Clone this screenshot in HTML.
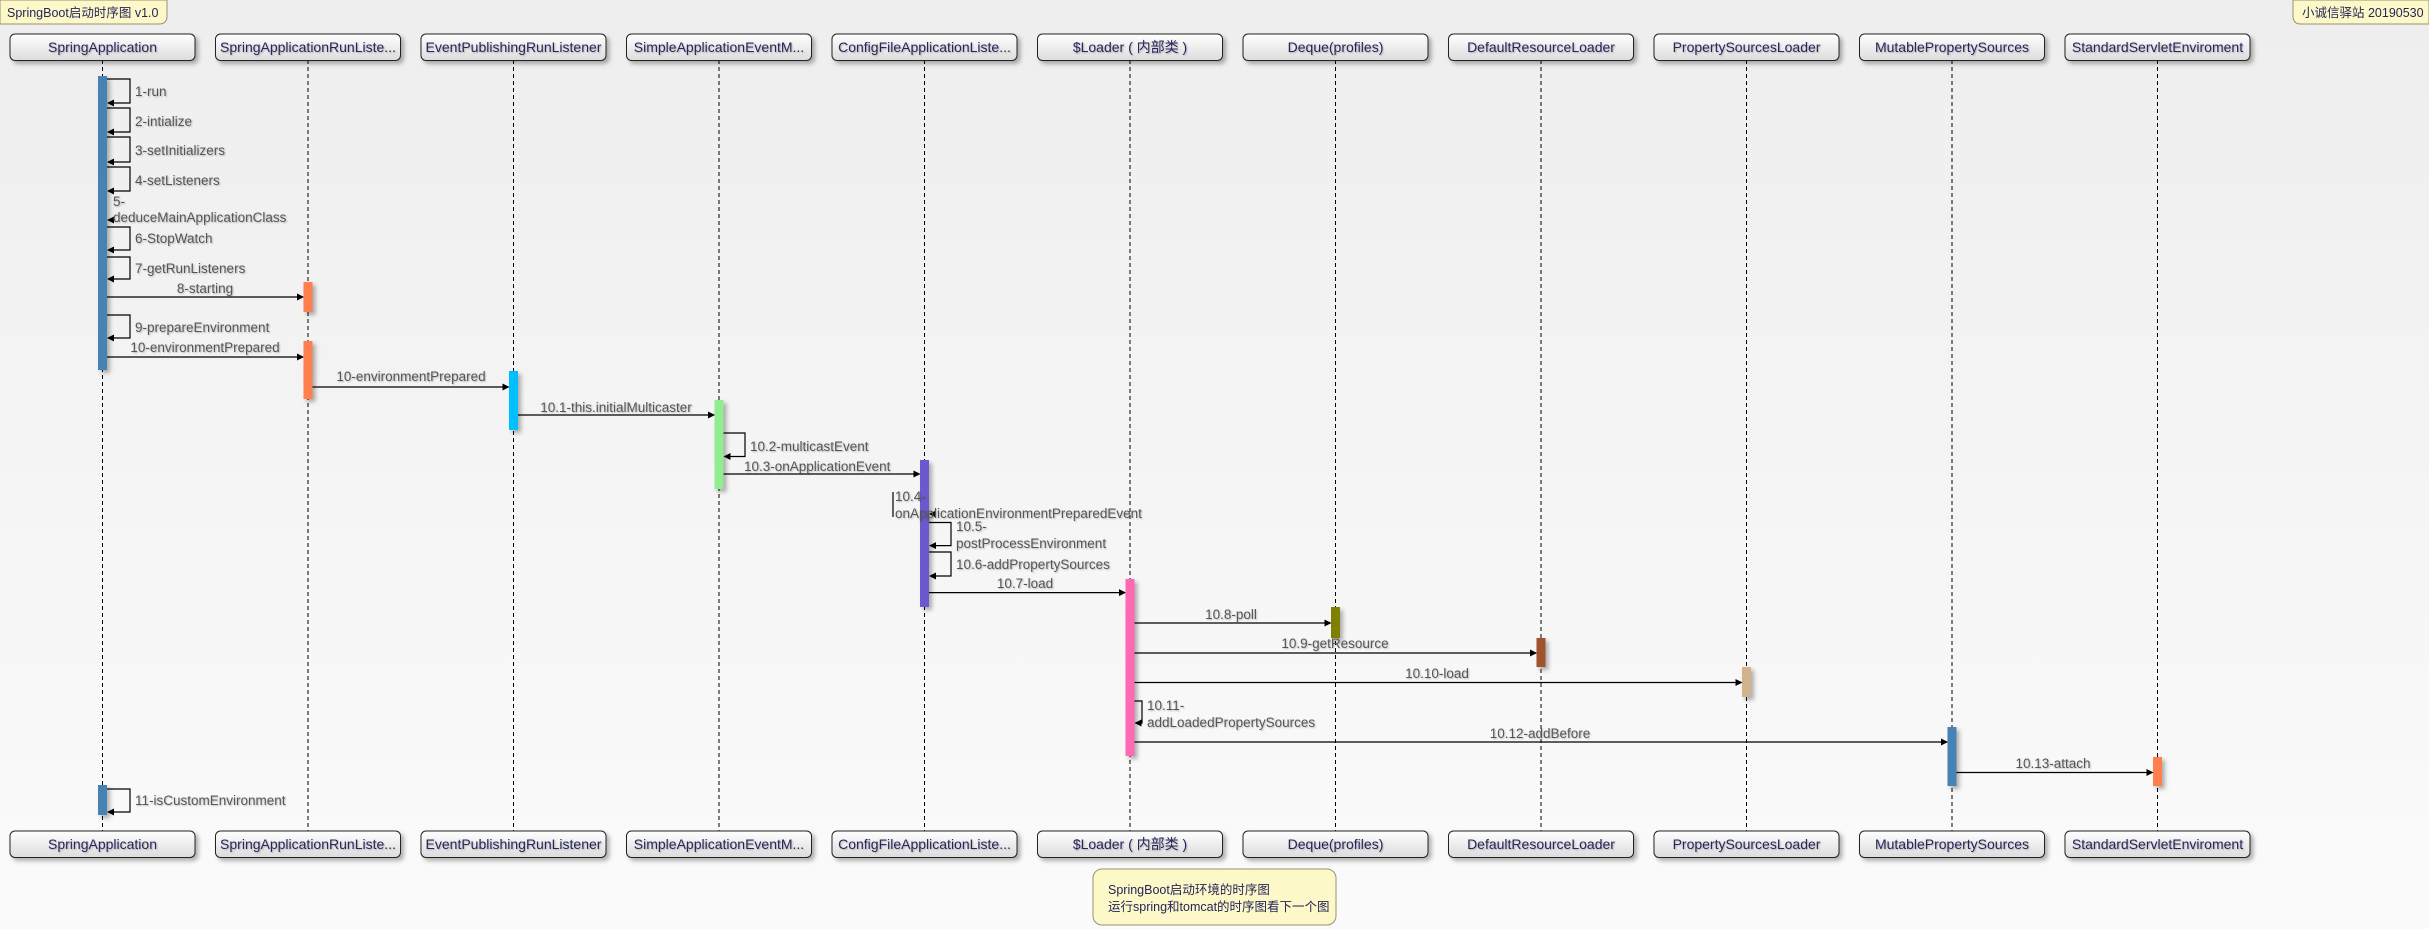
<!DOCTYPE html>
<html><head><meta charset="utf-8"><style>
html,body{margin:0;padding:0;}
body{width:2429px;height:929px;overflow:hidden;}
svg{display:block;}
.lb{font-family:"Liberation Sans","Noto Sans CJK SC",sans-serif;font-size:13.5px;fill:#555;}
.bx{font-family:"Liberation Sans","Noto Sans CJK SC",sans-serif;font-size:14px;fill:#25255a;}
.nt{font-family:"Liberation Sans","Noto Sans CJK SC",sans-serif;font-size:12.5px;fill:#25255a;}
</style></head><body>
<svg width="2429" height="929" viewBox="0 0 2429 929" xmlns="http://www.w3.org/2000/svg">
<defs>
<linearGradient id="bg" x1="0" y1="0" x2="0" y2="1"><stop offset="0" stop-color="#eeeeee"/><stop offset="1" stop-color="#fbfbfb"/></linearGradient>
<linearGradient id="bxg" x1="0" y1="0" x2="0" y2="1"><stop offset="0" stop-color="#ffffff"/><stop offset="1" stop-color="#dcdcdc"/></linearGradient>
<filter id="sh" x="-10%" y="-30%" width="130%" height="180%"><feDropShadow dx="3" dy="3" stdDeviation="2" flood-color="#000" flood-opacity="0.3"/></filter>
<filter id="ts"><feDropShadow dx="1" dy="1" stdDeviation="0.8" flood-color="#000" flood-opacity="0.25"/></filter>
<marker id="ah" markerWidth="7" markerHeight="7" refX="6" refY="3.5" orient="auto" markerUnits="userSpaceOnUse"><path d="M0,0 L7,3.5 L0,7 z" fill="#000"/></marker>
</defs>
<rect width="2429" height="929" fill="url(#bg)"/>

<path d="M0,0 H167 V16 Q167,24 159,24 H0 Z" fill="#fdf8c8" stroke="#9a9070"/>
<text class="nt" x="7" y="17">SpringBoot启动时序图 v1.0</text>
<path d="M2429,0 H2293 V16 Q2293,24 2301,24 H2429 Z" fill="#fdf8c8" stroke="#9a9070"/>
<text class="nt" x="2302" y="17">小诚信驿站 20190530</text>
<rect x="1093" y="869" width="243" height="56" rx="9" fill="#fdf8c8" stroke="#9a9070"/>
<text class="nt" x="1108" y="894">SpringBoot启动环境的时序图</text>
<text class="nt" x="1108" y="911">运行spring和tomcat的时序图看下一个图</text>

<g stroke="#000" stroke-width="1" stroke-dasharray="4,3">
<line x1="102.5" y1="60" x2="102.5" y2="831"/>
<line x1="308" y1="60" x2="308" y2="831"/>
<line x1="513.5" y1="60" x2="513.5" y2="831"/>
<line x1="719" y1="60" x2="719" y2="831"/>
<line x1="924.5" y1="60" x2="924.5" y2="831"/>
<line x1="1130" y1="60" x2="1130" y2="831"/>
<line x1="1335.5" y1="60" x2="1335.5" y2="831"/>
<line x1="1541" y1="60" x2="1541" y2="831"/>
<line x1="1746.5" y1="60" x2="1746.5" y2="831"/>
<line x1="1952" y1="60" x2="1952" y2="831"/>
<line x1="2157.5" y1="60" x2="2157.5" y2="831"/>
</g>

<g>
<g filter="url(#sh)" fill="url(#bxg)" stroke="#222" stroke-width="1">
<rect x="10" y="34" width="185" height="26.5" rx="5"/><rect x="215.5" y="34" width="185" height="26.5" rx="5"/><rect x="421" y="34" width="185" height="26.5" rx="5"/><rect x="626.5" y="34" width="185" height="26.5" rx="5"/><rect x="832" y="34" width="185" height="26.5" rx="5"/><rect x="1037.5" y="34" width="185" height="26.5" rx="5"/><rect x="1243" y="34" width="185" height="26.5" rx="5"/><rect x="1448.5" y="34" width="185" height="26.5" rx="5"/><rect x="1654" y="34" width="185" height="26.5" rx="5"/><rect x="1859.5" y="34" width="185" height="26.5" rx="5"/><rect x="2065" y="34" width="185" height="26.5" rx="5"/>
<rect x="10" y="831" width="185" height="26.5" rx="5"/><rect x="215.5" y="831" width="185" height="26.5" rx="5"/><rect x="421" y="831" width="185" height="26.5" rx="5"/><rect x="626.5" y="831" width="185" height="26.5" rx="5"/><rect x="832" y="831" width="185" height="26.5" rx="5"/><rect x="1037.5" y="831" width="185" height="26.5" rx="5"/><rect x="1243" y="831" width="185" height="26.5" rx="5"/><rect x="1448.5" y="831" width="185" height="26.5" rx="5"/><rect x="1654" y="831" width="185" height="26.5" rx="5"/><rect x="1859.5" y="831" width="185" height="26.5" rx="5"/><rect x="2065" y="831" width="185" height="26.5" rx="5"/>
</g>
<g class="bx" text-anchor="middle" filter="url(#ts)">
<text x="102.5" y="52">SpringApplication</text><text x="308" y="52">SpringApplicationRunListe...</text><text x="513.5" y="52">EventPublishingRunListener</text><text x="719" y="52">SimpleApplicationEventM...</text><text x="924.5" y="52">ConfigFileApplicationListe...</text><text x="1130" y="52">$Loader ( 内部类 )</text><text x="1335.5" y="52">Deque(profiles)</text><text x="1541" y="52">DefaultResourceLoader</text><text x="1746.5" y="52">PropertySourcesLoader</text><text x="1952" y="52">MutablePropertySources</text><text x="2157.5" y="52">StandardServletEnviroment</text>
<text x="102.5" y="849">SpringApplication</text><text x="308" y="849">SpringApplicationRunListe...</text><text x="513.5" y="849">EventPublishingRunListener</text><text x="719" y="849">SimpleApplicationEventM...</text><text x="924.5" y="849">ConfigFileApplicationListe...</text><text x="1130" y="849">$Loader ( 内部类 )</text><text x="1335.5" y="849">Deque(profiles)</text><text x="1541" y="849">DefaultResourceLoader</text><text x="1746.5" y="849">PropertySourcesLoader</text><text x="1952" y="849">MutablePropertySources</text><text x="2157.5" y="849">StandardServletEnviroment</text>
</g>
</g>

<g filter="url(#sh)">
<rect x="98" y="76" width="9" height="294" fill="#4682b4"/>
<rect x="98" y="785" width="9" height="30" fill="#4682b4"/>
<rect x="303.5" y="282" width="9" height="30" fill="#ff7f50"/>
<rect x="303.5" y="341" width="9" height="58" fill="#ff7f50"/>
<rect x="509" y="371" width="9" height="59" fill="#00bfff"/>
<rect x="714.5" y="400" width="9" height="89" fill="#90ee90"/>
<rect x="920" y="460" width="9" height="147" fill="#6a5acd"/>
<rect x="1125.5" y="579" width="9" height="177" fill="#ff69b4"/>
<rect x="1331" y="607" width="9" height="31" fill="#808000"/>
<rect x="1536.5" y="638" width="9" height="29" fill="#a0522d"/>
<rect x="1742" y="667" width="9" height="30" fill="#d2b48c"/>
<rect x="1947.5" y="727" width="9" height="59" fill="#4682b4"/>
<rect x="2153" y="757" width="9" height="29" fill="#ff7f50"/>
</g>

<g fill="none" stroke="#000" stroke-width="1.2" marker-end="url(#ah)">
<path d="M107,79 H130 V103 H108"/>
<path d="M107,108 H130 V132 H108"/>
<path d="M107,137 H130 V162 H108"/>
<path d="M107,167 H130 V191 H108"/>
<path d="M112,220 H108"/>
<path d="M107,227 H130 V250 H108"/>
<path d="M107,257 H130 V279 H108"/>
<path d="M107,315 H130 V338 H108"/>
<path d="M107,789 H130 V812 H108"/>
<path d="M723.5,433 H745 V456.5 H724.5"/>
<path d="M893,492 V517 M934,514 H930"/>
<path d="M929,522.5 H951 V545.6 H930"/>
<path d="M929,552 H951 V576 H930"/>
<path d="M1134.5,701 H1142 V723 H1135.5"/>
</g>

<g stroke="#000" stroke-width="1.2" marker-end="url(#ah)">
<line x1="107" y1="297" x2="303" y2="297"/>
<line x1="107" y1="357" x2="303" y2="357"/>
<line x1="312.5" y1="387" x2="508.5" y2="387"/>
<line x1="518" y1="415" x2="714" y2="415"/>
<line x1="723.5" y1="474" x2="919.5" y2="474"/>
<line x1="929" y1="592.6" x2="1125" y2="592.6"/>
<line x1="1134.5" y1="623" x2="1330.5" y2="623"/>
<line x1="1134.5" y1="653" x2="1536" y2="653"/>
<line x1="1134.5" y1="682.5" x2="1741.5" y2="682.5"/>
<line x1="1134.5" y1="742" x2="1947" y2="742"/>
<line x1="1956.5" y1="772.5" x2="2152.5" y2="772.5"/>
</g>

<g class="lb" filter="url(#ts)">
<text x="135" y="96">1-run</text>
<text x="135" y="126">2-intialize</text>
<text x="135" y="155">3-setInitializers</text>
<text x="135" y="185">4-setListeners</text>
<text x="113" y="206">5-</text>
<text x="113" y="222">deduceMainApplicationClass</text>
<text x="135" y="243">6-StopWatch</text>
<text x="135" y="273">7-getRunListeners</text>
<text x="135" y="332">9-prepareEnvironment</text>
<text x="135" y="805">11-isCustomEnvironment</text>
<text x="750" y="451">10.2-multicastEvent</text>
<text x="744" y="471">10.3-onApplicationEvent</text>
<text x="895" y="501">10.4-</text>
<text x="895" y="518">onApplicationEnvironmentPreparedEvent</text>
<text x="956" y="531">10.5-</text>
<text x="956" y="548">postProcessEnvironment</text>
<text x="956" y="569">10.6-addPropertySources</text>
<text x="1147" y="710">10.11-</text>
<text x="1147" y="727">addLoadedPropertySources</text>
<g text-anchor="middle">
<text x="205" y="293">8-starting</text>
<text x="205" y="352">10-environmentPrepared</text>
<text x="411" y="381">10-environmentPrepared</text>
<text x="616" y="412">10.1-this.initialMulticaster</text>
<text x="1025" y="588">10.7-load</text>
<text x="1231" y="619">10.8-poll</text>
<text x="1335" y="648">10.9-getResource</text>
<text x="1437" y="678">10.10-load</text>
<text x="1540" y="738">10.12-addBefore</text>
<text x="2053" y="768">10.13-attach</text>
</g>
</g>
</svg>
</body></html>
